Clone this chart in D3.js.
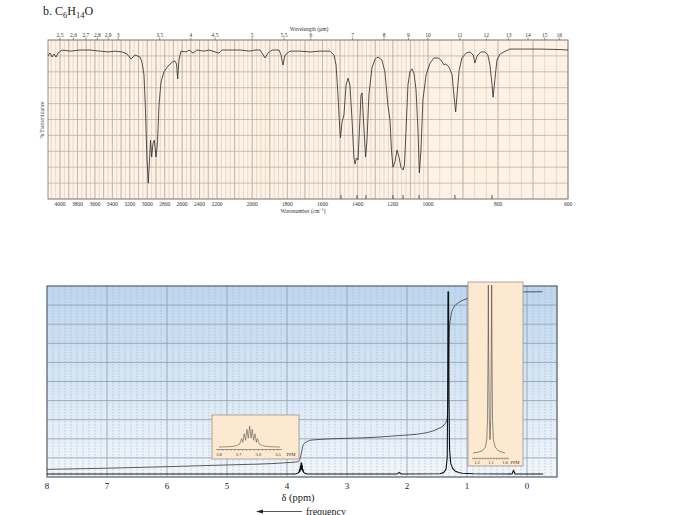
<!DOCTYPE html>
<html><head><meta charset="utf-8">
<script src="https://cdn.jsdelivr.net/npm/d3@7"></script>
<style>body{margin:0;background:#fff;} svg{display:block;font-family:"Liberation Serif","Times New Roman",serif;}</style>
</head><body><svg id="c" width="673" height="515"></svg>
<script>
// ---------- IR data ----------
const irWavenumber = [4138,4115,4092,4069,4046,4023,3977,3885,3771,3656,
3541,3450,3369,3289,3232,3186,3140,3083,3060,3037,
3020,3003,2988,2974,2962,2949,2934,2919,2899,2882,
2865,2842,2808,2762,2716,2682,2664,2651,2636,2613,
2555,2521,2475,2429,2349,2292,2189,2172,2126,2069,
2012,1984,1955,1944,1927,1910,1887,1847,1836,1825,
1813,1785,1728,1671,1614,1557,1535,1523,1512,1503,
1498,1489,1478,1466,1455,1444,1432,1421,1415,1407,
1398,1390,1381,1375,1367,1355,1347,1336,1319,1301,
1284,1262,1245,1228,1216,1208,1199,1188,1176,1165,
1154,1142,1134,1125,1114,1103,1091,1080,1068,1057,
1049,1040,1029,1011,994,983,971,963,954,949,
940,931,926,921,917,911,903,891,880,871,
866,860,849,837,829,823,817,814,809,803,
794,783,766,737,680,623,600];
const irTransmittance = [90,91.8,89.3,91.2,89.3,91.8,93.7,93,93.7,93.7,
93,92.5,93,92.5,91.2,88,90.6,89.3,86,78,
56,24.5,10,24.5,37,26.4,35,37,26.4,36,
59,73.6,80,83.6,86,86.8,85,75.5,87.4,93,
92.5,93.7,91.8,93.7,93,93.7,91.8,93.7,93.7,93.7,
93,93.7,93.7,91.8,88.7,91.8,93.7,93.7,90.6,84.3,
90.6,93,93,92.5,93,93,90.6,84.3,65.4,46.5,
38.4,48.4,52.8,71.7,76,71.7,49.7,25.8,22,25.8,
24.5,43.4,65.4,66.7,49.7,26.4,37,65.4,82.4,88,
89.3,87.4,80,59,49.7,30.8,20,23.3,30.8,26.4,
20,18.2,21.4,43.4,71.7,80,81.8,79.2,68.6,43.4,
16.4,30.8,62.3,78,85.5,88.7,88.7,87.4,84.3,85,
83,78,65.4,54.7,65.4,81,88.7,91.8,92.5,90.6,
85.5,89.9,92.5,92.5,90.6,84.3,71.7,64,75,87.4,
91.2,92.5,94.3,94.3,94.3,94,93.7];
const irPeakMarks = [1495,1404,1353,1199,1142,1051,923,817];
const wavelengthTicks = ["2.5","2.6","2.7","2.8","2.9","3","3.5","4","4.5","5","5.5","6","7","8","9","10","11","12","13","14","15","16"];
const wavenumberTicks = [4000,3800,3600,3400,3200,3000,2800,2600,2400,2200,2000,1800,1600,1400,1200,1000,800,600];
const transmittanceGrid = [0,10,20,30,40,50,60,70,80,90,100];

// ---------- NMR data ----------
const nmrTicks = [8,7,6,5,4,3,2,1,0];
const nmrPpm = [8.0,3.86,3.82,3.80,3.79,3.785,3.775,3.77,3.765,3.76,3.755,3.75,3.745,3.74,3.735,3.72,3.70,3.66,
 2.16,2.13,2.10,1.45,1.39,1.35,1.33,1.322,1.317,1.312,1.307,1.300,1.29,1.27,1.24,1.20,1.14,1.08,0.9,0.25,0.225,0.20,-0.27];
const nmrIntensity = [1.6,1.6,2.0,2.6,4.0,2.8,6.0,3.8,7.5,4.2,7.2,4.0,6.0,3.2,4.0,2.3,1.9,1.6,
 1.6,2.4,1.6,1.7,2.3,4.0,10,40,97,70,97,40,14,7,4.5,3.2,2.4,2.0,1.7,1.6,3.5,1.6,1.6];
const integralPpm = [8.0,7.0,6.0,5.0,4.0,3.82,3.78,3.75,3.73,3.67,3.57,2.95,2.73,2.17,1.73,1.50,1.37,1.33,1.31,1.295,1.27,1.23,1.14,1.06,0.98,0.06,-0.26];
const integralValue = [4.0,4.6,5.4,6.3,7.5,8.0,9.9,14.1,16.8,18.5,19.4,20.3,20.5,21.6,22.9,25.0,27.7,30.7,56,77,83.9,88.4,91.3,92.7,93.5,96.9,97.0];

// septet inset
const septetTicks = [3.8,3.7,3.6,3.5];
const septetPpm = [3.80,3.76,3.73,3.71,3.695,3.685,3.679,3.672,3.665,3.658,3.651,3.644,3.637,3.631,3.624,3.617,3.610,3.605,3.595,3.58,3.56,3.53,3.49];
const septetIntensity = [0,1,3,7,14,40,22,63,32,84,42,100,42,84,32,63,22,40,14,7,3,1,0];
// doublet inset
const doubletTicks = [1.2,1.1,1.0];
const doubletPpm = [1.23,1.19,1.16,1.14,1.13,1.125,1.121,1.119,1.117,1.112,1.107,1.102,1.098,1.095,1.093,1.089,1.083,1.07,1.05,1.02,1.0];
const doubletIntensity = [0,0.5,1.5,3.5,8,20,60,100,60,20,8,20,60,100,60,20,8,3.5,1.5,0.5,0];

const svg = d3.select("#c");

// ---------- Title ----------
const title = svg.append("text").attr("x",43).attr("y",15).attr("font-size",12).attr("fill","#222");
title.append("tspan").text("b. C");
title.append("tspan").attr("font-size",8.5).attr("dy",2.5).text("6");
title.append("tspan").attr("dy",-2.5).text("H");
title.append("tspan").attr("font-size",8.5).attr("dy",2.5).text("14");
title.append("tspan").attr("dy",-2.5).text("O");

// ---------- IR chart ----------
const irX = d3.scaleLinear().domain([4138,2200,1000,600]).range([48,217,428,568]);
const irY = d3.scaleLinear().domain([0,100]).range([199,40]);
const ir = svg.append("g");
ir.append("rect").attr("x",48).attr("y",40).attr("width",520).attr("height",159).attr("fill","#fdf2e3");
// vertical grid
const vMinor = [].concat(d3.range(2200,4138,50), d3.range(1000,2200,25), d3.range(600,1000,200/6));
ir.selectAll(".vmin").data(vMinor).enter().append("line")
  .attr("x1",d=>irX(d)).attr("x2",d=>irX(d)).attr("y1",40).attr("y2",199)
  .attr("stroke","#d6cabd").attr("stroke-width",0.6);
const vMajor = d3.range(600,4100,100);
ir.selectAll(".vmaj").data(vMajor).enter().append("line")
  .attr("x1",d=>irX(d)).attr("x2",d=>irX(d)).attr("y1",40).attr("y2",199)
  .attr("stroke","#b3aaa2").attr("stroke-width",0.7);
ir.selectAll(".hg").data(transmittanceGrid).enter().append("line")
  .attr("x1",48).attr("x2",568).attr("y1",d=>irY(d)).attr("y2",d=>irY(d))
  .attr("stroke","#b3aaa2").attr("stroke-width",0.7);
ir.append("rect").attr("x",48).attr("y",40).attr("width",520).attr("height",159).attr("fill","none").attr("stroke","#8d857e").attr("stroke-width",0.9);
// peak marks
ir.selectAll(".pm").data(irPeakMarks).enter().append("line")
  .attr("x1",d=>irX(d)).attr("x2",d=>irX(d)).attr("y1",195).attr("y2",199)
  .attr("stroke","#333").attr("stroke-width",0.8);
// spectrum
const irLine = d3.line().x(d=>irX(d[0])).y(d=>irY(d[1]));
ir.append("path").datum(d3.zip(irWavenumber, irTransmittance)).attr("d",irLine)
  .attr("fill","none").attr("stroke","#333").attr("stroke-width",0.85).attr("stroke-linejoin","round");
// top axis
ir.selectAll(".wt").data(wavelengthTicks).enter().append("line")
  .attr("x1",d=>irX(10000/+d)).attr("x2",d=>irX(10000/+d)).attr("y1",37.5).attr("y2",40)
  .attr("stroke","#555").attr("stroke-width",0.6);
ir.selectAll(".wl").data(wavelengthTicks).enter().append("text")
  .attr("x",d=>irX(10000/+d)).attr("y",36.5).attr("text-anchor","middle").attr("font-size",5.5).attr("fill","#333").text(d=>d);
ir.append("text").attr("x",309).attr("y",30.5).attr("text-anchor","middle").attr("font-size",5.5).attr("fill","#333").text("Wavelength (µm)");
// bottom axis
ir.selectAll(".nl").data(wavenumberTicks).enter().append("text")
  .attr("x",d=>irX(d)).attr("y",205.5).attr("text-anchor","middle").attr("font-size",5.5).attr("fill","#333").text(d=>d);
const wnl = ir.append("text").attr("x",303).attr("y",213).attr("text-anchor","middle").attr("font-size",5.5).attr("fill","#333");
wnl.append("tspan").text("Wavenumber (cm");
wnl.append("tspan").attr("dy",-1.8).attr("font-size",4).text("−1");
wnl.append("tspan").attr("dy",1.8).text(")");
ir.append("text").attr("transform","translate(43.5,120) rotate(-90)").attr("text-anchor","middle").attr("font-size",5.5).attr("fill","#333").text("% Transmittance");

// ---------- NMR chart ----------
const nX = d3.scaleLinear().domain([8,0]).range([47,527]);
const nY = d3.scaleLinear().domain([0,100]).range([477,286]);
const defs = svg.append("defs");
const grad = defs.append("linearGradient").attr("id","nmrbg").attr("x1",0).attr("x2",0).attr("y1",0).attr("y2",1);
grad.append("stop").attr("offset","0%").attr("stop-color","#bdd6ee");
grad.append("stop").attr("offset","100%").attr("stop-color","#f1f6fb");
const nmr = svg.append("g");
nmr.append("rect").attr("x",47).attr("y",286).attr("width",510).attr("height",191).attr("fill","url(#nmrbg)");
const minorPpm = d3.range(-5,80).map(i=>i/10).filter(v=>Math.abs(v-Math.round(v))>1e-6);
nmr.selectAll(".nmin").data(minorPpm).enter().append("line")
  .attr("x1",d=>nX(d)).attr("x2",d=>nX(d)).attr("y1",286).attr("y2",477)
  .attr("stroke","#9fb2c6").attr("stroke-width",0.6).attr("stroke-dasharray","1.5,1.5");
nmr.selectAll(".nmaj").data(nmrTicks.slice(1)).enter().append("line")
  .attr("x1",d=>nX(d)).attr("x2",d=>nX(d)).attr("y1",286).attr("y2",477)
  .attr("stroke","#8c9db0").attr("stroke-width",0.8);
nmr.selectAll(".nh").data(transmittanceGrid.slice(1,10)).enter().append("line")
  .attr("x1",47).attr("x2",557).attr("y1",d=>nY(d)).attr("y2",d=>nY(d))
  .attr("stroke","#8c9db0").attr("stroke-width",0.8);
nmr.append("rect").attr("x",47).attr("y",286).attr("width",510).attr("height",191).attr("fill","none").attr("stroke","#5f6a75").attr("stroke-width",1.3);
// integral
const nLine = d3.line().x(d=>nX(d[0])).y(d=>nY(d[1]));
nmr.append("path").datum(d3.zip(integralPpm, integralValue)).attr("d",nLine.curve(d3.curveMonotoneX))
  .attr("fill","none").attr("stroke","#333").attr("stroke-width",0.8);
// spectrum
nmr.append("path").datum(d3.zip(nmrPpm, nmrIntensity)).attr("d",d3.line().x(d=>nX(d[0])).y(d=>nY(d[1])))
  .attr("fill","none").attr("stroke","#111").attr("stroke-width",1.1).attr("stroke-linejoin","round");
// axis labels
nmr.selectAll(".nt").data(nmrTicks).enter().append("text")
  .attr("x",d=>nX(d)).attr("y",488.5).attr("text-anchor","middle").attr("font-size",9).attr("fill","#222").text(d=>d);
nmr.append("text").attr("x",298).attr("y",501).attr("text-anchor","middle").attr("font-size",10.5).attr("fill","#222").text("δ (ppm)");
nmr.append("line").attr("x1",261).attr("x2",302).attr("y1",511.5).attr("y2",511.5).attr("stroke","#444").attr("stroke-width",0.9);
nmr.append("path").attr("d","M256,511.5 L263,509.4 L263,513.6 Z").attr("fill","#222");
nmr.append("text").attr("x",306).attr("y",514.5).attr("font-size",10).attr("fill","#222").text("frequency");

// ---------- Inset 1 (septet) ----------
const sX = d3.scaleLinear().domain([3.8,3.5]).range([219,278]);
const sY = d3.scaleLinear().domain([0,100]).range([447,426]);
const in1 = svg.append("g");
in1.append("rect").attr("x",212).attr("y",415).attr("width",87).attr("height",44).attr("fill","#fde9cf").attr("stroke","#9c918a").attr("stroke-width",0.8);
in1.append("line").attr("x1",216).attr("x2",282).attr("y1",449.5).attr("y2",449.5).attr("stroke","#444").attr("stroke-width",0.5);
in1.selectAll(".st").data(d3.range(3.5,3.82,0.02)).enter().append("line")
  .attr("x1",d=>sX(d)).attr("x2",d=>sX(d)).attr("y1",449.5).attr("y2",451).attr("stroke","#444").attr("stroke-width",0.4);
in1.selectAll(".sl").data(septetTicks).enter().append("text")
  .attr("x",d=>sX(d)).attr("y",456).attr("text-anchor","middle").attr("font-size",4.5).attr("fill","#333").text(d=>d.toFixed(1));
in1.append("text").attr("x",291).attr("y",456).attr("text-anchor","middle").attr("font-size",4.5).attr("fill","#333").text("PPM");
in1.append("path").datum(d3.zip(septetPpm, septetIntensity)).attr("d",d3.line().x(d=>sX(d[0])).y(d=>sY(d[1])))
  .attr("fill","none").attr("stroke","#555").attr("stroke-width",0.6);

// ---------- Inset 2 (doublet) ----------
const dX = d3.scaleLinear().domain([1.2,1.0]).range([477,505]);
const dY = d3.scaleLinear().domain([0,100]).range([453,285]);
const in2 = svg.append("g");
in2.append("rect").attr("x",468).attr("y",282).attr("width",55).attr("height",184).attr("fill","#fde9cf").attr("stroke","#9c918a").attr("stroke-width",0.8);
in2.append("line").attr("x1",472).attr("x2",509).attr("y1",458.3).attr("y2",458.3).attr("stroke","#444").attr("stroke-width",0.5);
in2.selectAll(".dt").data(d3.range(0.98,1.24,0.02)).enter().append("line")
  .attr("x1",d=>dX(d)).attr("x2",d=>dX(d)).attr("y1",458.3).attr("y2",459.6).attr("stroke","#444").attr("stroke-width",0.4);
in2.selectAll(".dl").data(doubletTicks).enter().append("text")
  .attr("x",d=>dX(d)).attr("y",464).attr("text-anchor","middle").attr("font-size",4.5).attr("fill","#333").text(d=>d.toFixed(1));
in2.append("text").attr("x",515).attr("y",464).attr("text-anchor","middle").attr("font-size",4.5).attr("fill","#333").text("PPM");
in2.append("path").datum(d3.zip(doubletPpm, doubletIntensity)).attr("d",d3.line().x(d=>dX(d[0])).y(d=>dY(d[1])))
  .attr("fill","none").attr("stroke","#444").attr("stroke-width",0.6);
</script></body></html>
